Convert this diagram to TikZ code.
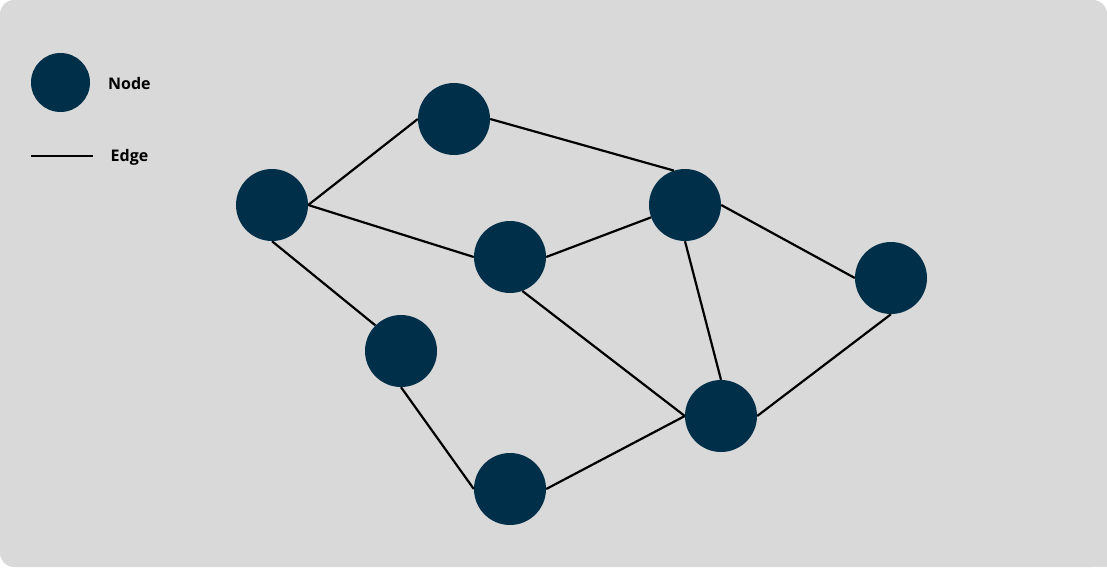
\documentclass[tikz,border=0pt]{standalone}
\usepackage{fontspec}
\setmainfont{Open Sans}
\definecolor{bg}{HTML}{D9D9D9}
\definecolor{nodeblue}{HTML}{003049}
\tikzset{
  vertex/.style={circle,fill=nodeblue,minimum size=72pt,inner sep=0pt},
  legvertex/.style={circle,fill=nodeblue,minimum size=59pt,inner sep=0pt},
  edgeline/.style={draw=black,line width=2.2pt},
  legtext/.style={font=\fontsize{16}{19}\selectfont\bfseries,anchor=west,inner sep=0pt}
}
\begin{document}
\begin{tikzpicture}[x=1pt,y=-1pt]
\useasboundingbox (0,0) rectangle (1107,567);
\fill[white] (0,0) rectangle (1107,567);
\fill[bg,rounded corners=14pt] (0,0) rectangle (1107,567);
\fill[bg] (1080,540) rectangle (1107,567);
% legend
\node[legvertex] (lg) at (60.5,82.5) {};
\node[legtext] (lgt) at (108,84) {Node};
\coordinate (le1) at (31,156);
\coordinate (le2) at (93,156);
\draw[edgeline] (le1) -- (le2);
\node[legtext] (let) at (110.5,157.5) {Edge};
% nodes
\node[vertex] (A) at (272,205) {};
\node[vertex] (B) at (454,119) {};
\node[vertex] (C) at (510,257) {};
\node[vertex] (D) at (685,205) {};
\node[vertex] (E) at (891,278) {};
\node[vertex] (F) at (401,351) {};
\node[vertex] (G) at (721,416) {};
\node[vertex] (H) at (510,489) {};
% edges
\draw[edgeline] (A.east) -- (B.west);
\draw[edgeline] (A.east) -- (C.west);
\draw[edgeline] (A.south) -- (F.135);
\draw[edgeline] (B.east) -- (D.108);
\draw[edgeline] (C.east) -- (D.200);
\draw[edgeline] (C.-70) -- (G.west);
\draw[edgeline] (D.east) -- (E.west);
\draw[edgeline] (D.south) -- (G.north);
\draw[edgeline] (E.south) -- (G.east);
\draw[edgeline] (F.south) -- (H.west);
\draw[edgeline] (H.east) -- (G.west);
\end{tikzpicture}
\end{document}
